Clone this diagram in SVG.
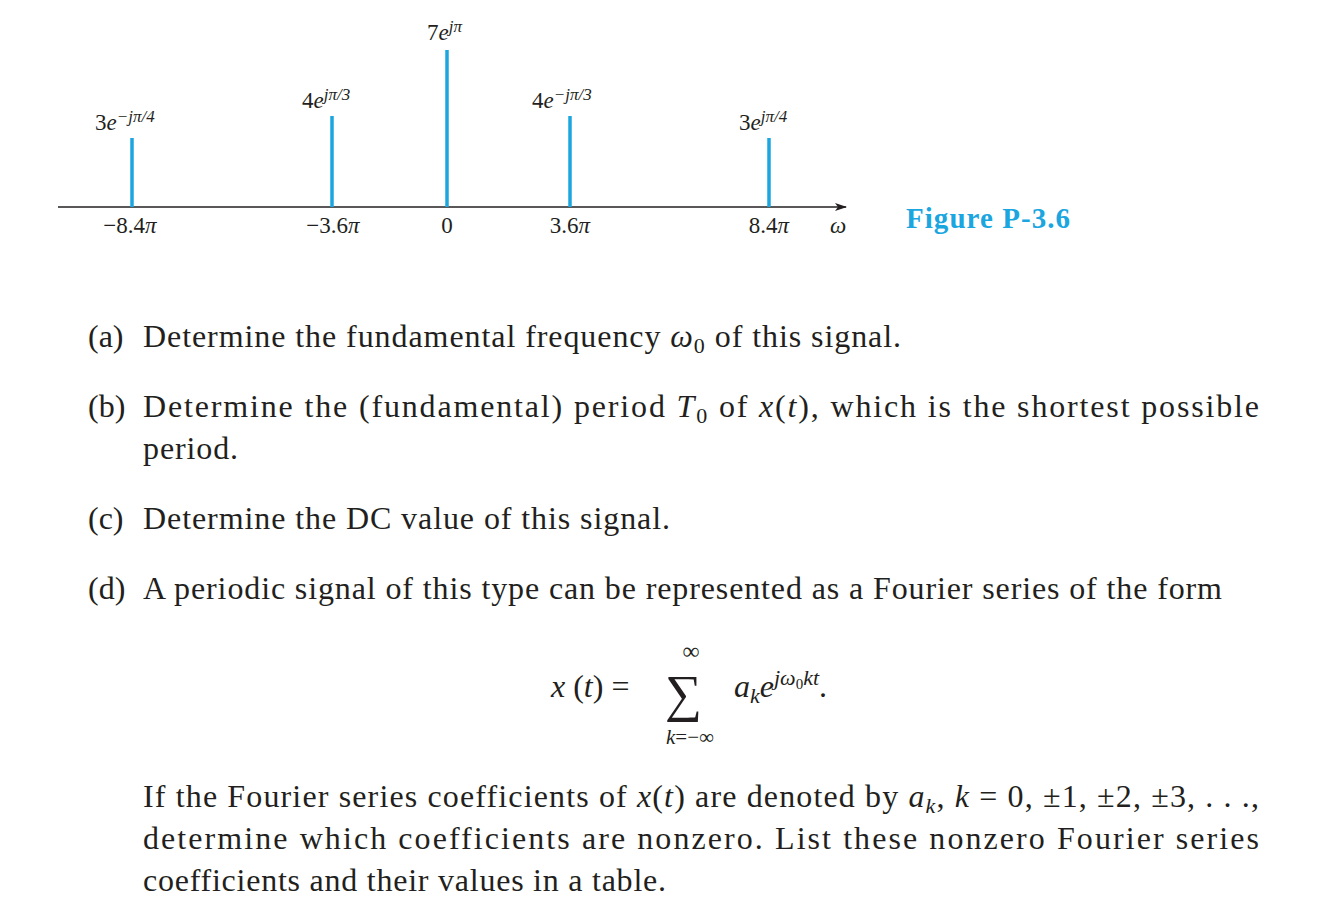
<svg xmlns="http://www.w3.org/2000/svg" width="1327" height="919" viewBox="0 0 1327 919">
<style>
text{font-family:"Liberation Serif","Times New Roman",serif;fill:#231f20}
.s{font-size:23px}.sup{font-size:17px;font-style:italic}
.b{font-size:32px}
.i{font-style:italic}
.stem{stroke:#1ba6df;stroke-width:3.5}
</style>
<defs><marker id="ar" markerWidth="12" markerHeight="8" refX="11" refY="4" orient="auto" markerUnits="userSpaceOnUse"><path d="M0,0 L12,4 L0,8 L3,4Z" fill="#231f20"/></marker></defs>
<g id="connectors">
<line x1="58" y1="207" x2="846" y2="207" stroke="#231f20" stroke-width="1.5" marker-end="url(#ar)"/>
</g>
<g id="n1"><line class="stem" x1="132" y1="207" x2="132" y2="138"/><text class="s" x="95" y="130">3<tspan class="i">e</tspan><tspan class="sup" dy="-8">−jπ/4</tspan></text><text class="s" x="130" y="233" text-anchor="middle">−8.4<tspan class="i">π</tspan></text></g>
<g id="n2"><line class="stem" x1="332" y1="207" x2="332" y2="116"/><text class="s" x="302" y="108">4<tspan class="i">e</tspan><tspan class="sup" dy="-8">jπ/3</tspan></text><text class="s" x="333" y="233" text-anchor="middle">−3.6<tspan class="i">π</tspan></text></g>
<g id="n3"><line class="stem" x1="447" y1="207" x2="447" y2="50"/><text class="s" x="427" y="40">7<tspan class="i">e</tspan><tspan class="sup" dy="-8">jπ</tspan></text><text class="s" x="447" y="233" text-anchor="middle">0</text></g>
<g id="n4"><line class="stem" x1="570" y1="207" x2="570" y2="116"/><text class="s" x="532" y="108">4<tspan class="i">e</tspan><tspan class="sup" dy="-8">−jπ/3</tspan></text><text class="s" x="570" y="233" text-anchor="middle">3.6<tspan class="i">π</tspan></text></g>
<g id="n5"><line class="stem" x1="769" y1="207" x2="769" y2="138"/><text class="s" x="739" y="130">3<tspan class="i">e</tspan><tspan class="sup" dy="-8">jπ/4</tspan></text><text class="s" x="769" y="233" text-anchor="middle">8.4<tspan class="i">π</tspan></text></g>
<text class="s i" x="838" y="233" text-anchor="middle">ω</text>
<text x="906" y="228" textLength="164" style="font-size:29px;font-weight:bold;fill:#1ba6df">Figure P-3.6</text>
<g id="body">
<text class="b" x="88" y="347">(a)</text><text class="b" x="143" y="347" textLength="758" lengthAdjust="spacing">Determine the fundamental frequency <tspan class="i">ω</tspan><tspan font-size="22" dy="6">0</tspan><tspan dy="-6"> of this signal.</tspan></text>
<text class="b" x="88" y="417">(b)</text><text class="b" x="143" y="417" textLength="1116" lengthAdjust="spacing">Determine the (fundamental) period <tspan class="i">T</tspan><tspan font-size="22" dy="6">0</tspan><tspan dy="-6"> of </tspan><tspan class="i">x</tspan>(<tspan class="i">t</tspan>), which is the shortest possible</text>
<text class="b" x="143" y="459" textLength="95" lengthAdjust="spacing">period.</text>
<text class="b" x="88" y="529">(c)</text><text class="b" x="143" y="529" textLength="527" lengthAdjust="spacing">Determine the DC value of this signal.</text>
<text class="b" x="88" y="599">(d)</text><text class="b" x="143" y="599" textLength="1079" lengthAdjust="spacing">A periodic signal of this type can be represented as a Fourier series of the form</text>
<text class="b" x="551" y="697"><tspan class="i">x</tspan> (<tspan class="i">t</tspan>) =</text>
<text x="665" y="711" style="font-size:52px">∑</text>
<text x="691" y="659" text-anchor="middle" style="font-size:24px">∞</text>
<text x="690" y="744" text-anchor="middle" style="font-size:21px"><tspan class="i">k</tspan>=−∞</text>
<text class="b" x="734" y="697"><tspan class="i">a</tspan><tspan class="i" font-size="22" dy="6">k</tspan><tspan class="i" dy="-6">e</tspan><tspan class="i" font-size="22" dy="-12">jω</tspan><tspan font-size="15" dy="4">0</tspan><tspan class="i" font-size="22" dy="-4">kt</tspan><tspan dy="12">.</tspan></text>
<text class="b" x="143" y="807" textLength="1116" lengthAdjust="spacing">If the Fourier series coefficients of <tspan class="i">x</tspan>(<tspan class="i">t</tspan>) are denoted by <tspan class="i">a</tspan><tspan class="i" font-size="22" dy="6">k</tspan><tspan dy="-6">,   </tspan><tspan class="i">k</tspan> = 0, ±1, ±2, ±3, . . .,</text>
<text class="b" x="143" y="849" textLength="1116" lengthAdjust="spacing">determine which coefficients are nonzero. List these nonzero Fourier series</text>
<text class="b" x="143" y="891" textLength="523" lengthAdjust="spacing">coefficients and their values in a table.</text>
</g>
</svg>
